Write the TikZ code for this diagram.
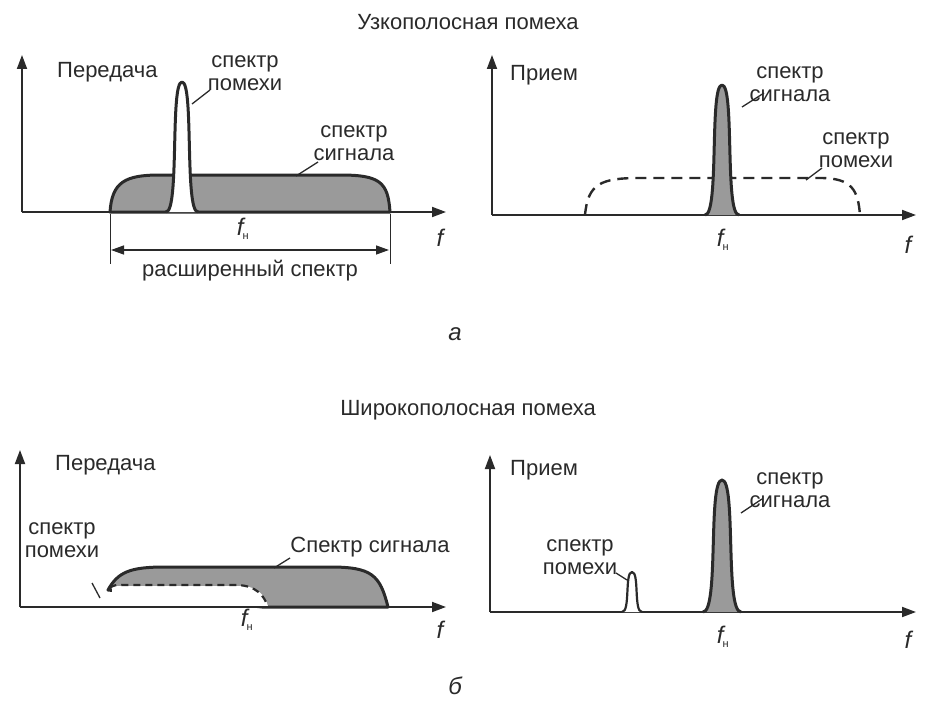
\documentclass[tikz,border=0pt]{standalone}
\usepackage{fontspec}
\setmainfont{Liberation Sans}
\usetikzlibrary{arrows.meta}
\definecolor{ink}{HTML}{2A2A2A}
\definecolor{shade}{HTML}{9A9A9A}
\newcommand\mypeak[4]{(#1-#4,#2) .. controls ({#1-0.15*#4},#2) and ({#1-0.75*#4},#3) .. (#1,#3) .. controls ({#1+0.75*#4},#3) and ({#1+0.15*#4},#2) .. (#1+#4,#2)}
\tikzset{
 axis/.style={draw=ink,line width=1.8,-{Triangle[length=14,width=10]}},
 curve/.style={draw=ink,line width=3,line join=round},
 lbl/.style={text=ink,font=\fontsize{22}{23}\selectfont,align=center,inner sep=0},
 ttl/.style={text=ink,font=\fontsize{22}{23}\selectfont,inner sep=0},
 fl/.style={text=ink,font=\fontsize{24}{24}\selectfont\itshape,inner sep=0},
 leader/.style={draw=ink,line width=1.3},
}
\newcommand\fsub{f\kern-1pt\textsubscript{\upshape\fontsize{11}{11}\selectfont н}}
\begin{document}
\begin{tikzpicture}[x=1pt,y=-1pt]
\useasboundingbox (0,0) rectangle (945,706);
% titles
\node[ttl] (t1) at (468,22) {Узкополосная помеха};
\node[fl] (la) at (455,334) {а};
\node[ttl] (t2) at (468,410) {Широкополосная помеха};
\node[fl] (lb) at (455,686) {б};
% ===== top-left
\coordinate (o1) at (22,212);
\draw[axis] (o1) -- (22,55);
\draw[axis] (o1) -- (446,212);
\draw[curve,fill=shade] (110,212) .. controls (112,182) and (125,175) .. (160,175) -- (340,175) .. controls (380,175) and (388,182) .. (390,212) -- cycle;
\draw[curve,fill=white] \mypeak{182}{212}{82}{16};
\node[ttl,anchor=west] (p1) at (57,72) {Передача};
\node[lbl] (s1) at (245,73) {спектр\\помехи};
\draw[leader] (210,90) -- (192,104);
\node[lbl] (s2) at (354,143) {спектр\\сигнала};
\draw[leader] (318,162) -- (296,176);
\node[fl] (fn1) at (243,229) {\fsub};
\node[fl] (f1) at (440,238) {f};
\draw[ink,line width=1] (110,214) -- (110,264) (390,214) -- (390,264);
\draw[ink,line width=1.4,{Triangle[length=13,width=9]}-{Triangle[length=13,width=9]}] (111,250) -- (389,250);
\node[ttl] (rs) at (250,271) {расширенный спектр};
% ===== top-right
\coordinate (o2) at (492,215);
\draw[axis] (o2) -- (492,55);
\draw[axis] (o2) -- (916,215);
\draw[draw=ink,line width=2.4,dash pattern=on 11pt off 7pt] (585,215) .. controls (588,184) and (600,178) .. (640,178) -- (820,178) .. controls (852,178) and (858,190) .. (860,215);
\draw[curve,fill=shade] \mypeak{722}{215}{85}{17};
\node[ttl,anchor=west] (p2) at (510,75) {Прием};
\node[lbl] (s3) at (790,84) {спектр\\сигнала};
\draw[leader] (764,93) -- (742,107);
\node[lbl] (s4) at (856,150) {спектр\\помехи};
\draw[leader] (822,168) -- (806,180);
\node[fl] (fn2) at (723,240) {\fsub};
\node[fl] (f2) at (908,245) {f};
% ===== bottom-left
\coordinate (o3) at (20,607);
\draw[axis] (o3) -- (20,450);
\draw[axis] (o3) -- (446,607);
\draw[curve,fill=shade] (108,590) .. controls (118,572) and (130,567) .. (165,567) -- (330,567) .. controls (372,567) and (380,575) .. (388,607) -- (262,607) -- cycle;
\fill[white] (112,586) -- (240,586) .. controls (258,586) and (265,596) .. (268,606) -- (112,606) -- cycle;
\draw[draw=ink,line width=2.2,dash pattern=on 7pt off 5pt] (110,588) .. controls (113,585) and (116,585) .. (122,585) -- (238,585) .. controls (256,586) and (264,595) .. (268,607);
\draw[ink,line width=1.8] (20,607) -- (430,607);
\node[ttl,anchor=west] (p3) at (55,465) {Передача};
\node[lbl] (s5) at (62,540) {спектр\\помехи};
\draw[leader] (92,583) -- (100,598);
\node[ttl] (s6) at (370,547) {Спектр сигнала};
\draw[leader] (290,558) -- (274,568);
\node[fl] (fn3) at (247,620) {\fsub};
\node[fl] (f3) at (440,630) {f};
% ===== bottom-right
\coordinate (o4) at (490,612);
\draw[axis] (o4) -- (490,455);
\draw[axis] (o4) -- (916,612);
\draw[curve,fill=white,line width=2.2] \mypeak{632}{612}{572}{10};
\draw[curve,fill=shade] \mypeak{722}{612}{480}{19};
\node[ttl,anchor=west] (p4) at (510,470) {Прием};
\node[lbl] (s7) at (790,490) {спектр\\сигнала};
\draw[leader] (762,499) -- (741,513);
\node[lbl] (s8) at (580,557) {спектр\\помехи};
\draw[leader] (616,573) -- (627,580);
\node[fl] (fn4) at (723,637) {\fsub};
\node[fl] (f4) at (908,640) {f};
\end{tikzpicture}
\end{document}
